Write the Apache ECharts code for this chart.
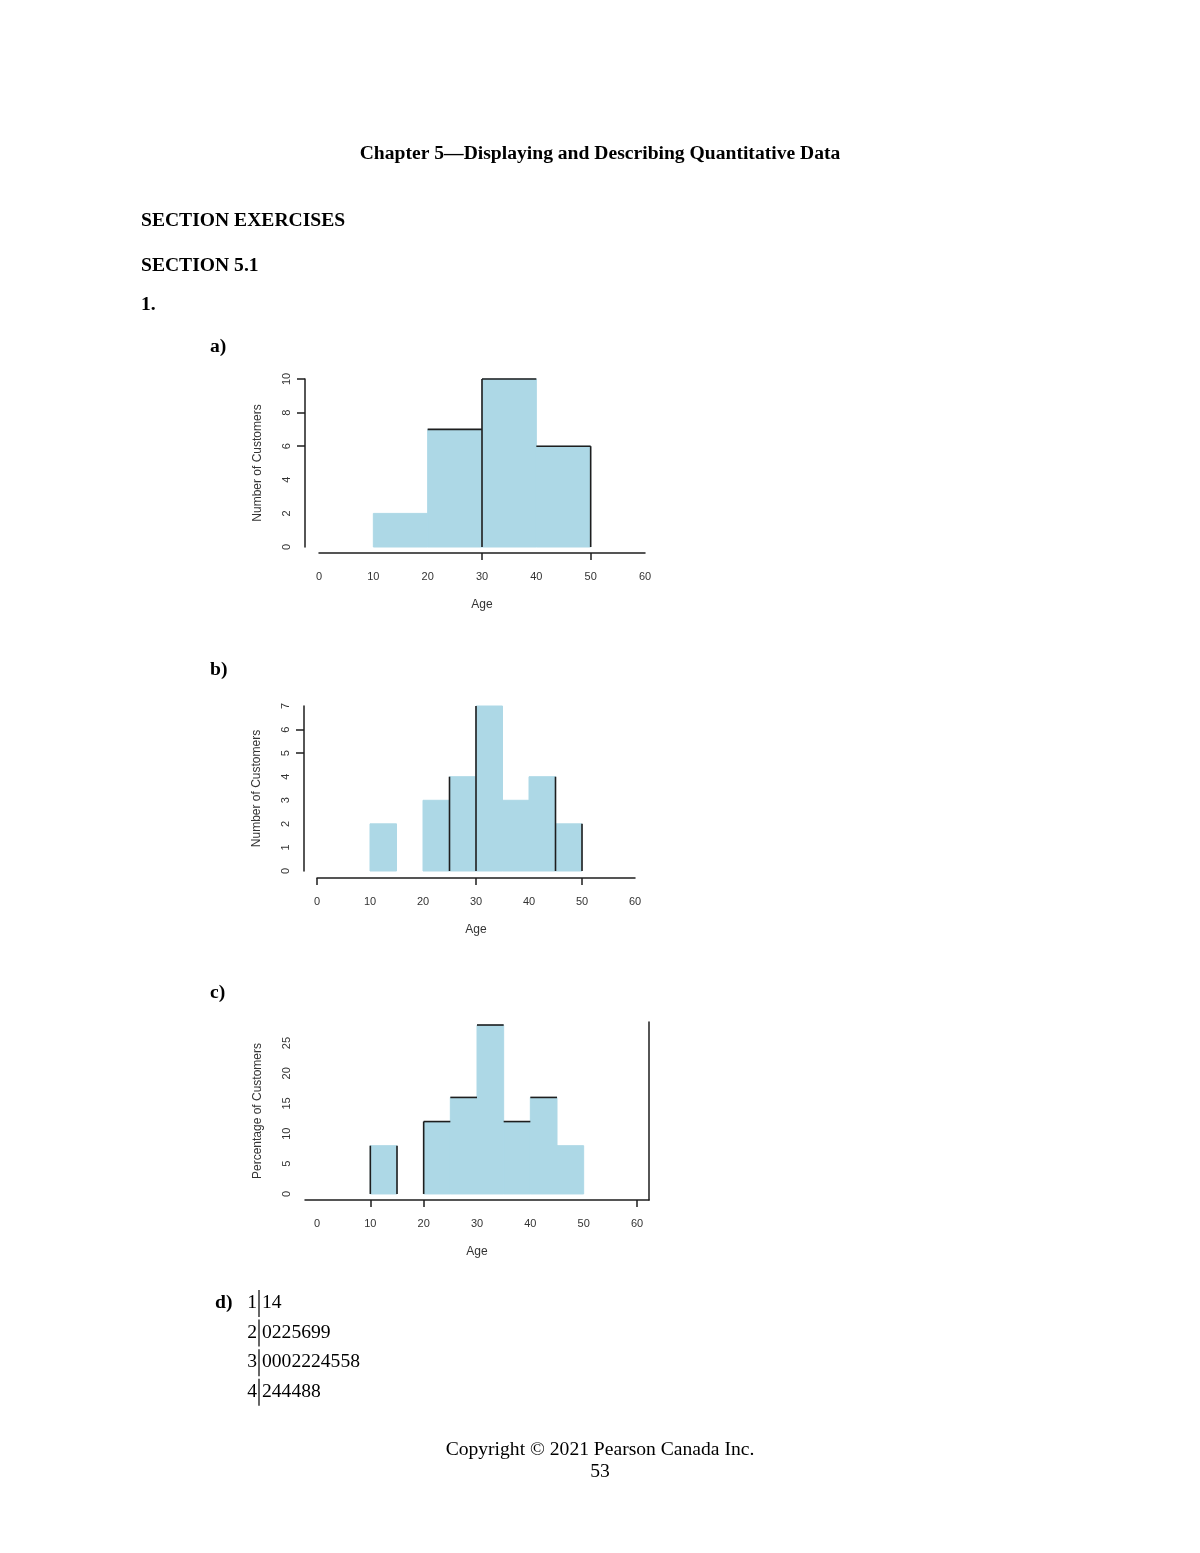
<!DOCTYPE html>
<html>
<head>
<meta charset="utf-8">
<title>Chapter 5 — histograms of customer ages</title>
<script src="https://cdn.jsdelivr.net/npm/echarts@6/dist/echarts.min.js"></script>
<style>
  html, body { margin: 0; padding: 0; background: #fff; }
  #page { width: 1200px; height: 1553px; }
</style>
</head>
<body>
<div id="page"></div>
<script>
// ages 0..60 on every x axis
const ageTicks = [0, 10, 20, 30, 40, 50, 60]

// a) bins of width 10
const binsA = [10, 20, 30, 40]
const countsA = [2, 7, 10, 6]
const countTicksA = [0, 2, 4, 6, 8, 10]

// b) bins of width 5
const binsB = [10, 15, 20, 25, 30, 35, 40, 45]
const countsB = [2, 0, 3, 4, 7, 3, 4, 2]
const countTicksB = [0, 1, 2, 3, 4, 5, 6, 7]

// c) same bins as b, as percentages
const binsC = [10, 15, 20, 25, 30, 35, 40, 45]
const percentC = [8, 0, 12, 16, 28, 12, 16, 8]
const percentTicksC = [0, 5, 10, 15, 20, 25]

// d) stem and leaf
const stems = ['1', '2', '3', '4']
const leaves = ['14', '0225699', '0002224558', '244488']

const BAR_FILL = '#add8e6'
const INK = '#1e1e1e'
const SANS = 'Liberation Sans, Arial, sans-serif'
const SERIF = 'Liberation Serif, Times New Roman, serif'

// which outline pieces show in the scan: l = left, r = right, t = top
const outlineA = ['', 't', 'lt', 'tr']
const outlineB = ['', '', '', 'l', 'l', '', 'r', 'r']
const outlineC = ['lr', '', 'lt', 't', 't', 't', 't', '']

function histData (starts, width, values) {
  return starts.map((s, i) => [s, s + width, values[i]])
}

function histItem (outline) {
  return function (params, api) {
    const lo = api.value(0)
    const hi = api.value(1)
    const v = api.value(2)
    const p0 = api.coord([lo, 0])
    const p1 = api.coord([hi, v])
    const kids = []
    const seg = (x1, y1, x2, y2) => ({
      type: 'line',
      shape: { x1: x1, y1: y1, x2: x2, y2: y2 },
      style: { stroke: INK, lineWidth: 1.6 },
      z2: 10
    })
    if (v > 0) {
      kids.push({
        type: 'rect',
        shape: { x: p0[0], y: p1[1], width: p1[0] - p0[0], height: p0[1] - p1[1] },
        // stroke in the fill colour hides the seams between touching bins
        style: { fill: BAR_FILL, stroke: BAR_FILL, lineWidth: 1 }
      })
    }
    const e = outline[params.dataIndex] || ''
    if (e.indexOf('l') >= 0) kids.push(seg(p0[0], p0[1], p0[0], p1[1]))
    if (e.indexOf('r') >= 0) kids.push(seg(p1[0], p0[1], p1[0], p1[1]))
    if (e.indexOf('t') >= 0) kids.push(seg(p0[0], p1[1], p1[0], p1[1]))
    return { type: 'group', children: kids }
  }
}

const axisLine = { show: true, onZero: false, lineStyle: { color: INK, width: 1.5 } }
const tickLabel = { color: '#333', fontFamily: SANS, fontSize: 11 }
const nameStyle = { color: '#333', fontFamily: SANS, fontSize: 12 }

function ageAxis (gridIndex, extra) {
  return Object.assign({
    type: 'value',
    gridIndex: gridIndex,
    name: 'Age',
    nameLocation: 'middle',
    nameGap: 46,
    nameTextStyle: nameStyle,
    axisLine: axisLine,
    splitLine: { show: false },
    axisLabel: Object.assign({ margin: 18 }, tickLabel)
  }, extra)
}

function countAxis (gridIndex, name, extra) {
  return Object.assign({
    type: 'value',
    gridIndex: gridIndex,
    name: name,
    nameLocation: 'middle',
    nameGap: 41,
    nameTextStyle: nameStyle,
    axisLine: axisLine,
    splitLine: { show: false },
    axisLabel: Object.assign({ rotate: 90, margin: 13 }, tickLabel)
  }, extra)
}

// page text
const texts = [
  { x: 600, y: 154, t: 'Chapter 5—Displaying and Describing Quantitative Data', bold: true, align: 'center' },
  { x: 141, y: 221, t: 'SECTION EXERCISES', bold: true },
  { x: 141, y: 266, t: 'SECTION 5.1', bold: true },
  { x: 141, y: 305, t: '1.', bold: true },
  { x: 210, y: 347, t: 'a)', bold: true },
  { x: 210, y: 670, t: 'b)', bold: true },
  { x: 210, y: 993, t: 'c)', bold: true },
  { x: 215, y: 1303, t: 'd)', bold: true },
  { x: 600, y: 1450, t: 'Copyright © 2021 Pearson Canada Inc.', align: 'center' },
  { x: 600, y: 1472, t: '53', align: 'center' }
]

const graphics = texts.map(d => ({
  type: 'text',
  x: d.x,
  y: d.y,
  style: {
    text: d.t,
    fill: '#000',
    font: (d.bold ? 'bold ' : '') + '19.6px ' + SERIF,
    textAlign: d.align || 'left',
    textVerticalAlign: 'middle'
  }
}))

stems.forEach((s, i) => {
  const y = 1303 + i * 29.6
  graphics.push({
    type: 'text', x: 257, y: y,
    style: { text: s, fill: '#000', font: '19.6px ' + SERIF, textAlign: 'right', textVerticalAlign: 'middle' }
  })
  graphics.push({
    type: 'text', x: 262, y: y,
    style: { text: leaves[i], fill: '#000', font: '19.6px ' + SERIF, textAlign: 'left', textVerticalAlign: 'middle' }
  })
  graphics.push({
    type: 'line',
    shape: { x1: 259, y1: y - 13, x2: 259, y2: y + 14 },
    style: { stroke: '#000', lineWidth: 1.2 }
  })
})

const option = {
  animation: false,
  backgroundColor: '#fff',
  graphic: graphics,
  grid: [
    { left: 319, top: 379, width: 326, height: 168 },
    { left: 317, top: 706, width: 318, height: 165 },
    { left: 305, top: 1022, width: 344, height: 178 }
  ],
  xAxis: [
    ageAxis(0, {
      min: ageTicks[0], max: ageTicks[ageTicks.length - 1], interval: 10, offset: 6,
      axisTick: { show: true, length: 7, customValues: [30, 50], lineStyle: { color: INK, width: 1.5 } }
    }),
    ageAxis(1, {
      min: ageTicks[0], max: ageTicks[ageTicks.length - 1], interval: 10, offset: 7,
      axisTick: { show: true, length: 7, customValues: [0, 30, 50], lineStyle: { color: INK, width: 1.5 } }
    }),
    ageAxis(2, {
      min: -2.25, max: 62.25,
      axisLabel: Object.assign({ margin: 18, customValues: ageTicks }, tickLabel),
      axisTick: { show: true, length: 7, customValues: [10, 20, 60], lineStyle: { color: INK, width: 1.5 } }
    })
  ],
  yAxis: [
    countAxis(0, 'Number of Customers', {
      min: 0, max: 10, interval: 2, offset: 14,
      axisTick: { show: true, length: 8, customValues: [6, 8, 10], lineStyle: { color: INK, width: 1.5 } }
    }),
    countAxis(1, 'Number of Customers', {
      min: 0, max: 7, interval: 1, offset: 13,
      axisTick: { show: true, length: 8, customValues: [5, 6], lineStyle: { color: INK, width: 1.5 } }
    }),
    countAxis(2, 'Percentage of Customers', {
      min: -1, max: 28.5,
      axisLine: { show: false, onZero: false },
      axisTick: { show: false },
      axisLabel: Object.assign({ rotate: 90, margin: 13, customValues: percentTicksC }, tickLabel)
    }),
    // right-hand frame line of plot c
    {
      type: 'value', gridIndex: 2, position: 'right', min: -1, max: 28.5,
      axisLine: axisLine, axisTick: { show: false }, axisLabel: { show: false }, splitLine: { show: false }
    }
  ],
  series: [
    {
      type: 'custom', xAxisIndex: 0, yAxisIndex: 0,
      renderItem: histItem(outlineA),
      encode: { x: [0, 1], y: 2 },
      data: histData(binsA, 10, countsA)
    },
    {
      type: 'custom', xAxisIndex: 1, yAxisIndex: 1,
      renderItem: histItem(outlineB),
      encode: { x: [0, 1], y: 2 },
      data: histData(binsB, 5, countsB)
    },
    {
      type: 'custom', xAxisIndex: 2, yAxisIndex: 2,
      renderItem: histItem(outlineC),
      encode: { x: [0, 1], y: 2 },
      data: histData(binsC, 5, percentC)
    }
  ]
}

const chart = echarts.init(document.getElementById('page'), null, { renderer: 'canvas' })
chart.setOption(option)
</script>
</body>
</html>
